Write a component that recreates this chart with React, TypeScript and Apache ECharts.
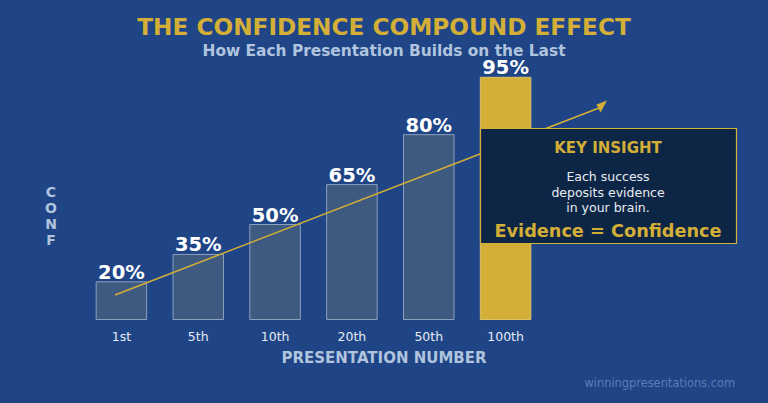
import React, { useEffect, useRef } from "react";
import * as echarts from "echarts";

const categories = ["1st", "5th", "10th", "20th", "50th", "100th"];
const barHeights = [15.1, 25.8, 37.5, 53.1, 72.6, 95];
const valueLabels = ["20%", "35%", "50%", "65%", "80%", "95%"];
const highlightIndex = 5;
const titleText = "THE CONFIDENCE COMPOUND EFFECT";
const subtitleText = "How Each Presentation Builds on the Last";
const xAxisName = "PRESENTATION NUMBER";
const yAxisName = ["C", "O", "N", "F"];
const insightTitle = "KEY INSIGHT";
const insightLines = ["Each success", "deposits evidence", "in your brain."];
const insightFooter = "Evidence = Confidence";
const watermark = "winningpresentations.com";

const FONT = "DejaVu Sans";
const GOLD = "#d4af37";
const BG = "#1f4587";
const LIGHT = "#b0c4de";

export default function App() {
  const ref = useRef<HTMLDivElement>(null);
  useEffect(() => {
    if (!ref.current) return;
    const chart = echarts.init(ref.current, undefined, { renderer: "svg" });
    chart.setOption({
      animation: false,
      backgroundColor: BG,
      grid: { left: 83, width: 461, top: 64, bottom: 83 },
      xAxis: {
        type: "category",
        data: categories,
        axisLine: { show: false },
        axisTick: { show: false },
        axisLabel: { color: "#e6ebf3", fontSize: 12.5, fontFamily: FONT, margin: 10 },
      },
      yAxis: { type: "value", min: 0, max: 100, show: false, splitLine: { show: false } },
      series: [
        {
          type: "bar",
          barWidth: 51.5,
          z: 2,
          data: barHeights.map((v, i) => ({
            value: v,
            itemStyle:
              i === highlightIndex
                ? { color: GOLD, borderColor: "#dcc26a", borderWidth: 1 }
                : { color: "#3e5a80", borderColor: "#8c9fbb", borderWidth: 1 },
          })),
          label: {
            show: true,
            position: "top",
            distance: -1,
            formatter: (p: any) => valueLabels[p.dataIndex],
            color: "#ffffff",
            fontSize: 19.5,
            fontWeight: "bold",
            fontFamily: FONT,
          },
        },
      ],
      graphic: [
        {
          type: "text",
          x: 384,
          y: 26,
          style: {
            text: titleText,
            fill: GOLD,
            font: `bold 23.2px "${FONT}"`,
            align: "center",
            verticalAlign: "middle",
          },
        },
        {
          type: "text",
          x: 384,
          y: 51,
          style: {
            text: subtitleText,
            fill: LIGHT,
            font: `bold 15.4px "${FONT}"`,
            align: "center",
            verticalAlign: "middle",
          },
        },
        {
          type: "text",
          x: 51,
          y: 216,
          style: {
            text: yAxisName.join("\n"),
            fill: LIGHT,
            font: `bold 14px "${FONT}"`,
            lineHeight: 15.8,
            align: "center",
            verticalAlign: "middle",
          },
        },
        {
          type: "text",
          x: 384,
          y: 358,
          style: {
            text: xAxisName,
            fill: LIGHT,
            font: `bold 15px "${FONT}"`,
            align: "center",
            verticalAlign: "middle",
          },
        },
        {
          type: "line",
          z: 10,
          shape: { x1: 115, y1: 295, x2: 599, y2: 108 },
          style: { stroke: GOLD, lineWidth: 1.5 },
        },
        {
          type: "polygon",
          z: 10,
          shape: { points: [[607, 100.5], [596.5, 104.5], [600.5, 112.5]] },
          style: { fill: GOLD },
        },
        {
          type: "rect",
          z: 20,
          shape: { x: 480.5, y: 128.5, width: 256, height: 115 },
          style: { fill: "#0e2646", stroke: GOLD, lineWidth: 1.2 },
        },
        {
          type: "text",
          z: 21,
          x: 608,
          y: 147.5,
          style: {
            text: insightTitle,
            fill: GOLD,
            font: `bold 15px "${FONT}"`,
            align: "center",
            verticalAlign: "middle",
          },
        },
        {
          type: "text",
          z: 21,
          x: 608,
          y: 192,
          style: {
            text: insightLines.join("\n"),
            fill: "#e8ecf2",
            font: `12.5px "${FONT}"`,
            lineHeight: 15.7,
            align: "center",
            verticalAlign: "middle",
          },
        },
        {
          type: "text",
          z: 21,
          x: 608,
          y: 231,
          style: {
            text: insightFooter,
            fill: GOLD,
            font: `bold 17.7px "${FONT}"`,
            align: "center",
            verticalAlign: "middle",
          },
        },
        {
          type: "text",
          x: 735,
          y: 383,
          style: {
            text: watermark,
            fill: "#5b7cb8",
            font: `11.4px "${FONT}"`,
            align: "right",
            verticalAlign: "middle",
          },
        },
      ],
    });
    return () => chart.dispose();
  }, []);
  return (
    <div
      ref={ref}
      style={{ position: "fixed", left: 0, top: 0, width: 768, height: 403 }}
    />
  );
}
